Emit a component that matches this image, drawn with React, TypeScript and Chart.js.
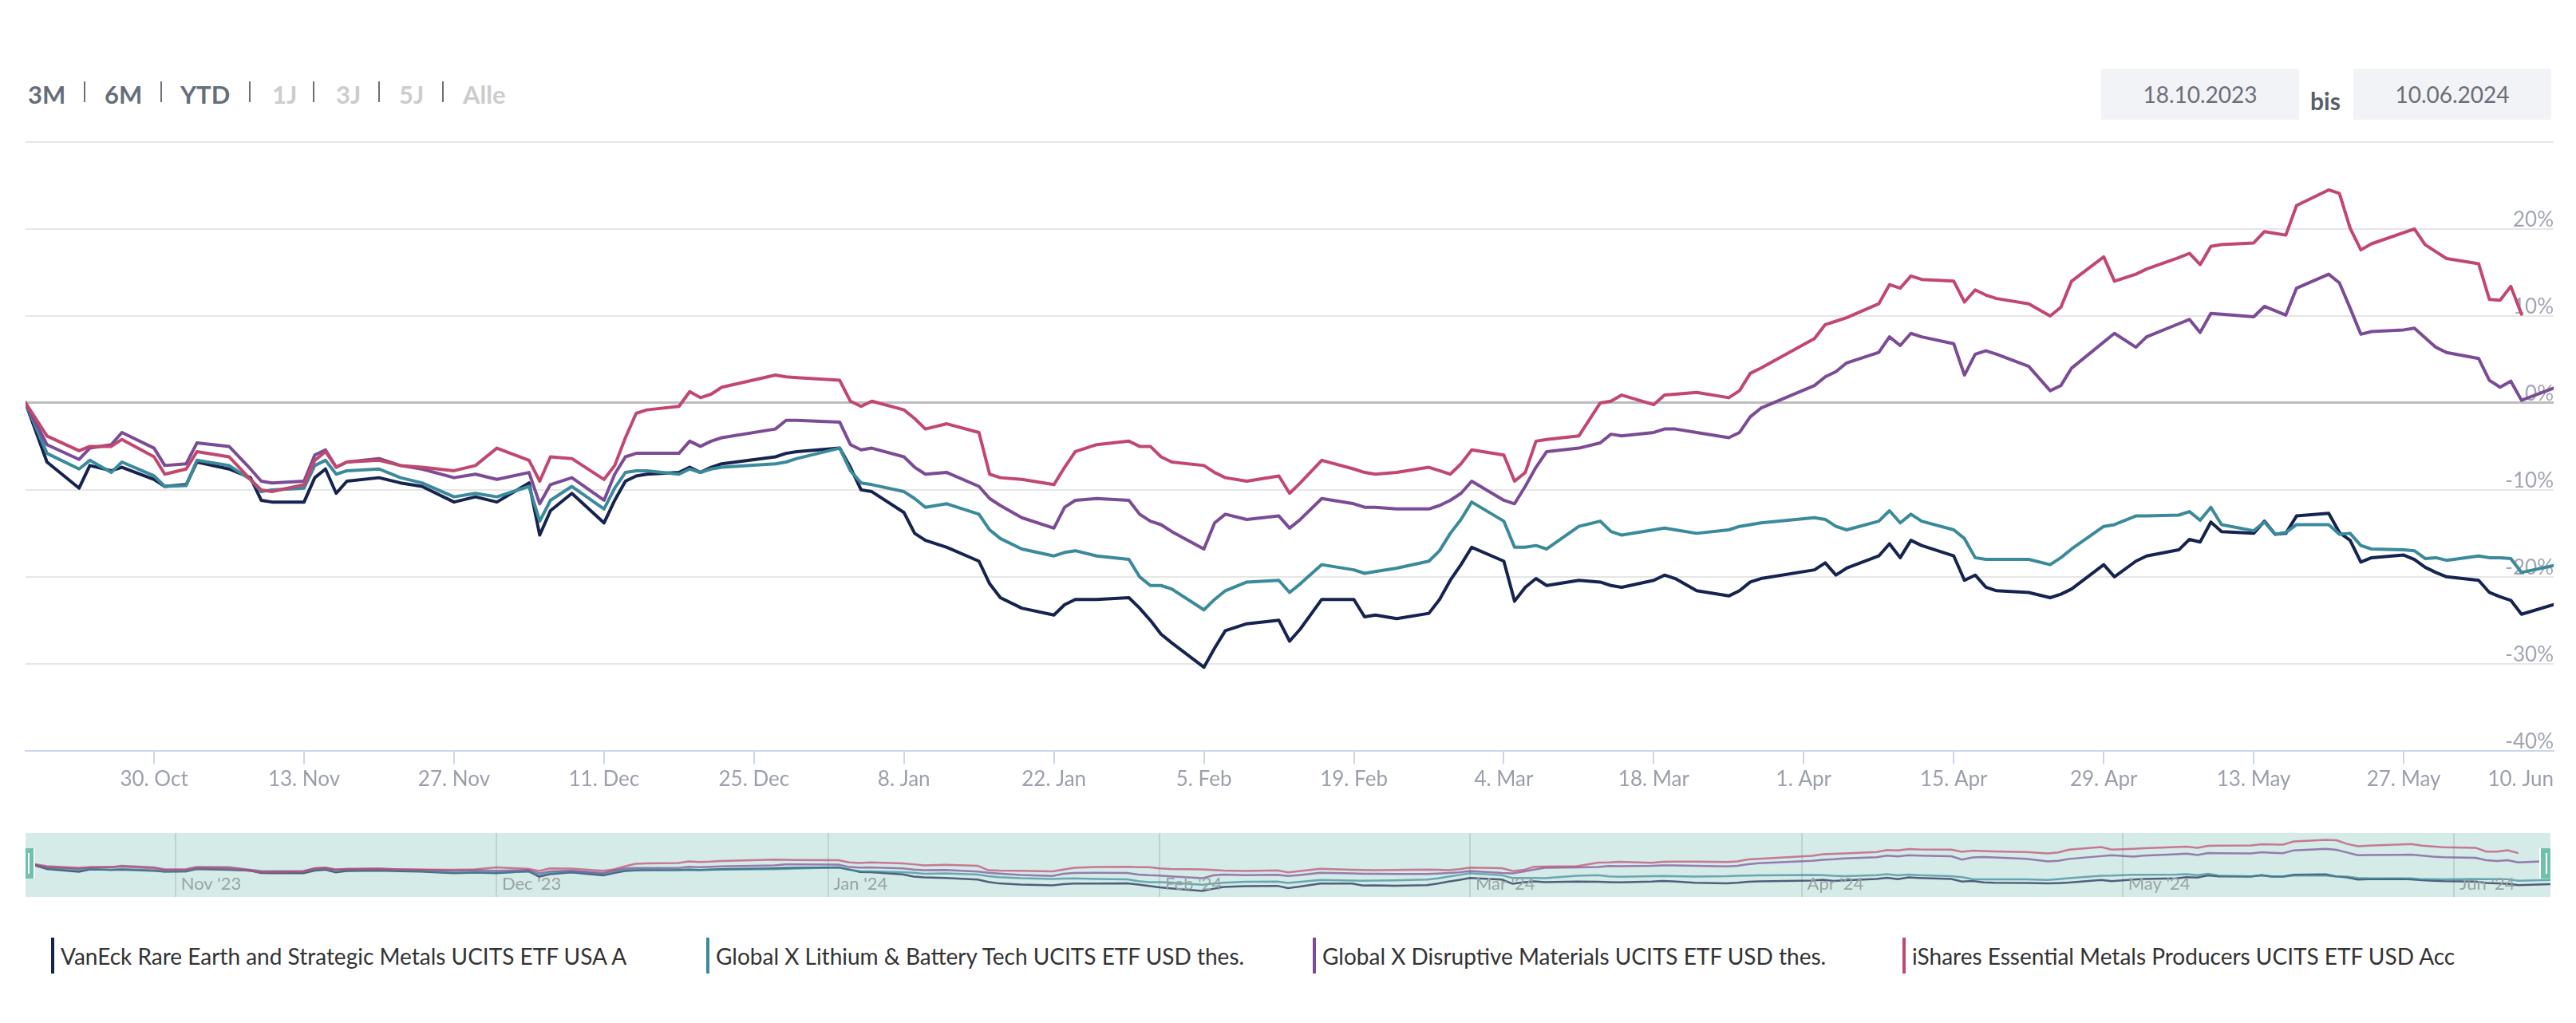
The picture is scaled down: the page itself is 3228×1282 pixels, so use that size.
import React, { useEffect, useRef } from 'react';
import { Chart, registerables } from 'chart.js';

Chart.register(...registerables);

// ---------- DATA ----------
const dates = [
  '2023-10-18','2023-10-20','2023-10-23','2023-10-24','2023-10-26','2023-10-27','2023-10-30','2023-10-31',
  '2023-11-02','2023-11-03','2023-11-06','2023-11-08','2023-11-09','2023-11-10','2023-11-13','2023-11-14',
  '2023-11-15','2023-11-16','2023-11-17','2023-11-20','2023-11-22','2023-11-24','2023-11-27','2023-11-29',
  '2023-12-01','2023-12-04','2023-12-05','2023-12-06','2023-12-08','2023-12-11','2023-12-12','2023-12-13',
  '2023-12-14','2023-12-15','2023-12-18','2023-12-19','2023-12-20','2023-12-21','2023-12-22','2023-12-27',
  '2023-12-28','2023-12-29','2024-01-02','2024-01-03','2024-01-04','2024-01-05','2024-01-08','2024-01-09',
  '2024-01-10','2024-01-12','2024-01-15','2024-01-16','2024-01-17','2024-01-19','2024-01-22','2024-01-23',
  '2024-01-24','2024-01-26','2024-01-29','2024-01-30','2024-01-31','2024-02-01','2024-02-02','2024-02-05',
  '2024-02-06','2024-02-07','2024-02-09','2024-02-12','2024-02-13','2024-02-14','2024-02-16','2024-02-19',
  '2024-02-20','2024-02-21','2024-02-23','2024-02-26','2024-02-27','2024-02-28','2024-02-29','2024-03-01',
  '2024-03-04','2024-03-05','2024-03-06','2024-03-07','2024-03-08','2024-03-11','2024-03-13','2024-03-14',
  '2024-03-15','2024-03-18','2024-03-19','2024-03-20','2024-03-22','2024-03-25','2024-03-26','2024-03-27',
  '2024-03-28','2024-04-02','2024-04-03','2024-04-04','2024-04-05','2024-04-08','2024-04-09','2024-04-10',
  '2024-04-11','2024-04-12','2024-04-15','2024-04-16','2024-04-17','2024-04-18','2024-04-19','2024-04-22',
  '2024-04-24','2024-04-25','2024-04-26','2024-04-29','2024-04-30','2024-05-02','2024-05-03','2024-05-06',
  '2024-05-07','2024-05-08','2024-05-09','2024-05-10','2024-05-13','2024-05-14','2024-05-15','2024-05-16',
  '2024-05-17','2024-05-20','2024-05-21','2024-05-22','2024-05-23','2024-05-24','2024-05-27','2024-05-28',
  '2024-05-29','2024-05-30','2024-05-31','2024-06-03','2024-06-04','2024-06-05','2024-06-06','2024-06-07',
  '2024-06-10',
];

const vanEck = [
  0,-6.8,-9.8,-7.2,-7.8,-7.4,-8.8,-9.6,
  -9.4,-6.8,-7.6,-8.6,-11.2,-11.4,-11.4,-8.6,
  -7.6,-10.4,-9.0,-8.6,-9.2,-9.6,-11.4,-10.8,
  -11.4,-9.2,-15.2,-12.4,-10.4,-13.8,-11.2,-9.0,
  -8.4,-8.2,-8.0,-7.4,-8.0,-7.4,-7.0,-6.2,
  -5.8,-5.6,-5.2,-7.4,-10.0,-10.2,-12.6,-15.0,
  -15.8,-16.6,-18.2,-20.8,-22.4,-23.6,-24.4,-23.2,
  -22.6,-22.6,-22.4,-23.6,-25.0,-26.6,-27.6,-30.4,
  -28.2,-26.2,-25.4,-25.0,-27.4,-26.0,-22.6,-22.6,
  -24.6,-24.4,-24.8,-24.2,-22.6,-20.4,-18.6,-16.6,
  -18.2,-22.8,-21.2,-20.2,-21.0,-20.4,-20.6,-21.0,
  -21.2,-20.4,-19.8,-20.2,-21.6,-22.2,-21.6,-20.6,
  -20.2,-19.2,-18.4,-19.8,-19.0,-17.6,-16.2,-17.8,
  -15.8,-16.4,-17.6,-20.4,-19.8,-21.2,-21.6,-21.8,
  -22.4,-22.0,-21.4,-18.6,-20.0,-18.2,-17.6,-16.9,
  -15.7,-16.0,-13.7,-14.8,-15.0,-13.6,-15.1,-15.0,
  -13.0,-12.7,-14.9,-15.8,-18.3,-17.8,-17.5,-18.0,
  -18.9,-19.5,-20.0,-20.4,-21.8,-22.3,-22.7,-24.3,
  -23.2,
];

const lithium = [
  0,-5.8,-7.6,-6.6,-8.0,-6.8,-8.4,-9.6,
  -9.5,-6.6,-7.2,-8.8,-10.2,-10.0,-9.8,-7.2,
  -6.6,-8.2,-7.8,-7.6,-8.6,-9.2,-10.8,-10.4,
  -10.8,-9.6,-13.6,-11.2,-9.6,-12.2,-9.8,-8.0,
  -7.8,-7.8,-8.2,-7.6,-8.0,-7.6,-7.4,-7.0,
  -6.8,-6.4,-5.2,-7.8,-9.2,-9.4,-10.2,-11.0,
  -12.0,-11.6,-12.8,-14.6,-15.6,-16.8,-17.6,-17.2,
  -17.0,-17.6,-18.0,-20.0,-21.0,-21.0,-21.4,-23.8,
  -22.6,-21.6,-20.6,-20.4,-21.8,-20.8,-18.6,-19.2,
  -19.6,-19.4,-19.0,-18.2,-17.0,-15.0,-13.4,-11.4,
  -13.6,-16.6,-16.6,-16.4,-16.8,-14.2,-13.6,-14.8,
  -15.2,-14.6,-14.4,-14.6,-15.0,-14.6,-14.2,-14.0,
  -13.8,-13.2,-13.4,-14.2,-14.6,-13.6,-12.4,-13.8,
  -12.8,-13.6,-14.6,-15.6,-17.8,-18.0,-18.0,-18.0,
  -18.6,-17.8,-16.8,-14.2,-14.0,-13.0,-13.0,-12.9,
  -12.5,-13.5,-12.0,-14.0,-14.7,-13.7,-15.1,-14.9,
  -14.0,-14.0,-15.1,-15.0,-16.4,-16.8,-16.9,-17.0,
  -17.9,-17.8,-18.1,-17.6,-17.8,-17.8,-17.9,-19.5,
  -18.7,
];

const disruptive = [
  0,-4.8,-6.5,-5.2,-4.8,-3.4,-5.2,-7.2,
  -7.0,-4.6,-5.0,-7.6,-9.0,-9.2,-9.0,-6.0,
  -5.4,-7.4,-6.8,-6.4,-7.2,-7.6,-8.6,-8.2,
  -8.8,-8.0,-11.6,-9.4,-8.6,-11.2,-8.2,-6.2,
  -5.8,-5.8,-5.8,-4.4,-5.0,-4.4,-4.0,-3.0,
  -2.0,-2.0,-2.2,-4.8,-5.4,-5.2,-6.2,-7.4,
  -8.2,-8.0,-9.6,-11.0,-11.8,-13.2,-14.4,-12.0,
  -11.2,-11.0,-11.2,-12.8,-13.6,-14.0,-14.8,-16.8,
  -13.8,-12.8,-13.4,-13.0,-14.4,-13.4,-11.0,-11.6,
  -12.0,-12.0,-12.2,-12.2,-11.8,-11.2,-10.4,-9.0,
  -11.2,-11.6,-9.6,-7.4,-5.6,-5.2,-4.6,-3.6,
  -3.8,-3.4,-3.0,-3.0,-3.4,-4.0,-3.4,-1.6,
  -0.6,2.0,3.0,3.6,4.6,5.8,7.6,6.6,
  8.0,7.6,6.8,3.2,5.6,6.0,5.6,4.2,
  1.4,2.0,4.0,7.0,8.0,6.4,7.6,9.1,
  9.6,8.1,10.3,10.2,9.9,11.1,10.6,10.1,
  13.2,14.8,13.8,10.9,7.9,8.2,8.4,8.6,
  7.5,6.4,5.8,5.1,2.6,1.8,2.5,0.3,
  1.7,
];

const ishares = [
  0,-3.8,-5.5,-5.0,-5.0,-4.2,-6.2,-8.2,
  -7.6,-5.6,-6.2,-8.8,-10.0,-10.2,-9.4,-6.6,
  -5.6,-7.4,-6.8,-6.6,-7.2,-7.4,-7.8,-7.2,
  -5.2,-6.6,-9.0,-6.2,-6.4,-8.8,-7.2,-4.0,
  -1.2,-0.8,-0.4,1.3,0.6,1.0,1.8,3.2,
  3.0,2.9,2.6,0.2,-0.4,0.2,-0.8,-1.8,
  -3.0,-2.4,-3.4,-8.2,-8.6,-8.8,-9.4,-7.4,
  -5.6,-4.8,-4.4,-5.0,-5.0,-6.2,-6.8,-7.2,
  -8.0,-8.6,-9.0,-8.4,-10.4,-9.2,-6.6,-7.6,
  -8.0,-8.2,-8.0,-7.4,-7.8,-8.2,-7.0,-5.4,
  -6.0,-9.0,-8.0,-4.4,-4.2,-3.8,0.0,0.2,
  0.9,-0.2,0.9,1.0,1.2,0.6,1.4,3.4,
  4.0,7.4,9.0,9.4,9.8,11.4,13.6,13.2,
  14.6,14.2,14.0,11.6,13.0,12.4,12.0,11.4,
  10.0,11.0,14.0,16.8,14.0,14.8,15.4,16.7,
  17.2,15.9,18.0,18.2,18.4,19.7,19.5,19.3,
  22.7,24.5,24.1,20.1,17.6,18.3,null,20.0,
  18.2,17.4,16.6,16.0,11.9,11.8,13.4,10.2,
  null,
];

const seriesNames = [
  'VanEck Rare Earth and Strategic Metals UCITS ETF USA A',
  'Global X Lithium & Battery Tech UCITS ETF USD thes.',
  'Global X Disruptive Materials UCITS ETF USD thes.',
  'iShares Essential Metals Producers UCITS ETF USD Acc',
];
const seriesColors = ['#16234f', '#3b8a9b', '#7b4b95', '#c2476e'];

const xTickDates = [
  '2023-10-18','2023-10-30','2023-11-13','2023-11-27','2023-12-11','2023-12-25','2024-01-08','2024-01-22',
  '2024-02-05','2024-02-19','2024-03-04','2024-03-18','2024-04-01','2024-04-15','2024-04-29','2024-05-13',
  '2024-05-27','2024-06-10',
];
const xTickLabels = [
  '','30. Oct','13. Nov','27. Nov','11. Dec','25. Dec','8. Jan','22. Jan',
  '5. Feb','19. Feb','4. Mar','18. Mar','1. Apr','15. Apr','29. Apr','13. May',
  '27. May','10. Jun',
];
const yTicks = [-40, -30, -20, -10, 0, 10, 20, 30];

const navMonthDates = ['2023-11-01','2023-12-01','2024-01-01','2024-02-01','2024-03-01','2024-04-01','2024-05-01','2024-06-01'];
const navMonthLabels = ["Nov '23","Dec '23","Jan '24","Feb '24","Mar '24","Apr '24","May '24","Jun '24"];

const rangeButtons = ['3M', '6M', 'YTD', '1J', '3J', '5J', 'Alle'];
const rangeEnabled = [true, true, true, false, false, false, false];
const dateFrom = '18.10.2023';
const dateTo = '10.06.2024';

// ---------- HELPERS ----------
const START = Date.UTC(2023, 9, 18);
const END = Date.UTC(2024, 5, 10);
const dayOf = (s: string) => {
  const [y, m, d] = s.split('-').map(Number);
  return Math.round((Date.UTC(y, m - 1, d) - START) / 86400000);
};
const MAXDAY = Math.round((END - START) / 86400000);
const seriesValues = [vanEck, lithium, disruptive, ishares];

const FONT = 'Lato, "Noto Sans", sans-serif';

export default function App() {
  const mainRef = useRef<HTMLCanvasElement>(null);
  const navRef = useRef<HTMLCanvasElement>(null);

  useEffect(() => {
    Chart.defaults.font.family = FONT;
    const mainDatasets = seriesValues.map((vals, i) => ({
      label: seriesNames[i],
      data: dates.map((dt, j) => ({ x: dayOf(dt), y: vals[j] })),
      borderColor: seriesColors[i],
      backgroundColor: seriesColors[i],
      borderWidth: 4,
      pointRadius: 0,
      tension: 0,
      spanGaps: true,
      fill: false,
      order: 4 - i,
      borderJoinStyle: 'round' as const,
      borderCapStyle: 'round' as const,
    }));

    const main = new Chart(mainRef.current!, {
      type: 'line',
      data: { datasets: mainDatasets as any },
      options: {
        animation: false,
        responsive: false,
        maintainAspectRatio: false,
        events: [],
        layout: { padding: { left: 32, right: 28, top: 28, bottom: 5 } },
        plugins: { legend: { display: false }, tooltip: { enabled: false } },
        scales: {
          x: {
            type: 'linear',
            min: 0,
            max: MAXDAY,
            afterBuildTicks: (axis: any) => {
              axis.ticks = xTickDates.map((d) => ({ value: dayOf(d) }));
            },
            ticks: {
              autoSkip: false,
              maxRotation: 0,
              minRotation: 0,
              align: 'inner',
              padding: 3,
              color: '#9a9fab',
              font: { size: 26, family: FONT },
              callback: (_v: any, i: number) => xTickLabels[i] ?? '',
            },
            grid: {
              drawOnChartArea: false,
              drawTicks: true,
              tickLength: 17,
              lineWidth: 2,
              color: (ctx: any) => {
                const v = ctx.tick ? ctx.tick.value : -1;
                return v === 0 || v === MAXDAY ? 'rgba(0,0,0,0)' : '#ccd6eb';
              },
            },
            border: { display: true, color: '#ccd6eb', width: 2 },
          },
          y: {
            position: 'right',
            min: -40,
            max: 30,
            afterBuildTicks: (axis: any) => {
              axis.ticks = yTicks.map((v) => ({ value: v }));
            },
            ticks: {
              mirror: true,
              padding: 0,
              labelOffset: -11,
              color: '#a0a5b1',
              font: { size: 26, family: FONT },
              callback: (v: any) => (v === 30 ? '' : v + '%'),
            },
            grid: {
              drawTicks: false,
              lineWidth: (ctx: any) => (ctx.tick && ctx.tick.value === 0 ? 3 : 2),
              color: (ctx: any) => {
                const v = ctx.tick ? ctx.tick.value : null;
                if (v === 0) return '#bdbdbd';
                if (v === -40) return 'rgba(0,0,0,0)';
                return '#e6e6e6';
              },
            },
            border: { display: false },
          },
        },
      } as any,
    });

    const navLabelPlugin = {
      id: 'navLabels',
      afterDraw(chart: any) {
        const ctx = chart.ctx;
        const xs = chart.scales.x;
        ctx.save();
        ctx.font = `22px ${FONT}`;
        ctx.fillStyle = '#9aa3a2';
        ctx.textBaseline = 'middle';
        ctx.textAlign = 'left';
        navMonthDates.forEach((d, i) => {
          const px = xs.getPixelForValue(dayOf(d));
          ctx.fillText(navMonthLabels[i], px + 7, 64);
        });
        ctx.restore();
      },
    };

    const navDatasets = seriesValues.map((vals, i) => ({
      label: seriesNames[i],
      data: dates.map((dt, j) => ({ x: dayOf(dt), y: vals[j] })),
      borderColor: seriesColors[i] + 'b3',
      borderWidth: 2.5,
      pointRadius: 0,
      tension: 0,
      spanGaps: true,
      fill: false,
      order: 4 - i,
    }));

    const nav = new Chart(navRef.current!, {
      type: 'line',
      data: { datasets: navDatasets as any },
      options: {
        animation: false,
        responsive: false,
        maintainAspectRatio: false,
        events: [],
        layout: { padding: 0 },
        plugins: { legend: { display: false }, tooltip: { enabled: false } },
        scales: {
          x: {
            type: 'linear',
            min: 0,
            max: MAXDAY,
            afterBuildTicks: (axis: any) => {
              axis.ticks = navMonthDates.map((d) => ({ value: dayOf(d) }));
            },
            ticks: { display: false },
            grid: { drawOnChartArea: true, drawTicks: false, color: '#bcd3cf', lineWidth: 2 },
            border: { display: false },
          },
          y: { display: false, min: -36.9, max: 31.8 },
        },
      } as any,
      plugins: [navLabelPlugin],
    });

    return () => {
      main.destroy();
      nav.destroy();
    };
  }, []);

  const rangeLefts = [35, 131, 226, 341, 421, 500, 580];
  const sepLefts = [105, 201, 312, 392, 474, 554];
  const legendBars = [64, 885, 1645, 2384];

  return (
    <div
      style={{
        position: 'absolute',
        left: 0,
        top: 0,
        width: 3228,
        height: 1282,
        background: '#ffffff',
        fontFamily: FONT,
        overflow: 'hidden',
      }}
    >
      {rangeButtons.map((b, i) => (
        <div
          key={b}
          style={{
            position: 'absolute',
            left: rangeLefts[i],
            top: 98,
            fontSize: 31,
            lineHeight: '40px',
            fontWeight: 700,
            color: rangeEnabled[i] ? '#666e7a' : '#cccccc',
          }}
        >
          {b}
        </div>
      ))}
      {sepLefts.map((x, i) => (
        <div
          key={'s' + i}
          style={{ position: 'absolute', left: x, top: 102, width: 2, height: 26, background: '#6b7078' }}
        />
      ))}

      <div
        style={{
          position: 'absolute', left: 2633, top: 86, width: 248, height: 64, background: '#f2f3f6',
          fontSize: 28, color: '#6a6e78', textAlign: 'center', lineHeight: '64px',
        }}
      >
        {dateFrom}
      </div>
      <div
        style={{
          position: 'absolute', left: 2895, top: 106, fontSize: 30, fontWeight: 700, color: '#595e66', lineHeight: '40px',
        }}
      >
        bis
      </div>
      <div
        style={{
          position: 'absolute', left: 2949, top: 86, width: 248, height: 64, background: '#f2f3f6',
          fontSize: 28, color: '#6a6e78', textAlign: 'center', lineHeight: '64px',
        }}
      >
        {dateTo}
      </div>

      <canvas
        ref={mainRef}
        width={3228}
        height={850}
        style={{ position: 'absolute', left: 0, top: 150, width: 3228, height: 850 }}
      />

      <div style={{ position: 'absolute', left: 32, top: 1044, width: 3164, height: 80, background: '#d4ebe7' }} />
      <canvas
        ref={navRef}
        width={3164}
        height={80}
        style={{ position: 'absolute', left: 32, top: 1044, width: 3164, height: 80 }}
      />
      <div
        style={{
          position: 'absolute', left: 32, top: 1063, width: 10, height: 38, background: '#6fc2aa',
          borderRight: '2px solid #ffffff', boxSizing: 'content-box',
        }}
      >
        <div style={{ position: 'absolute', left: 3, top: 6, width: 2, height: 26, background: '#ffffff' }} />
      </div>
      <div
        style={{
          position: 'absolute', left: 3182, top: 1063, width: 12, height: 38, background: '#6fc2aa',
          borderLeft: '2px solid #ffffff', boxSizing: 'content-box',
        }}
      >
        <div style={{ position: 'absolute', left: 6, top: 6, width: 2, height: 26, background: '#ffffff' }} />
      </div>

      {seriesNames.map((n, i) => (
        <div key={n} style={{ position: 'absolute', left: legendBars[i], top: 1175, height: 45, display: 'flex', alignItems: 'center' }}>
          <div style={{ width: 4, height: 45, background: seriesColors[i], marginRight: 8 }} />
          <span style={{ fontSize: 28, color: '#333333', whiteSpace: 'nowrap' }}>{n}</span>
        </div>
      ))}
    </div>
  );
}
